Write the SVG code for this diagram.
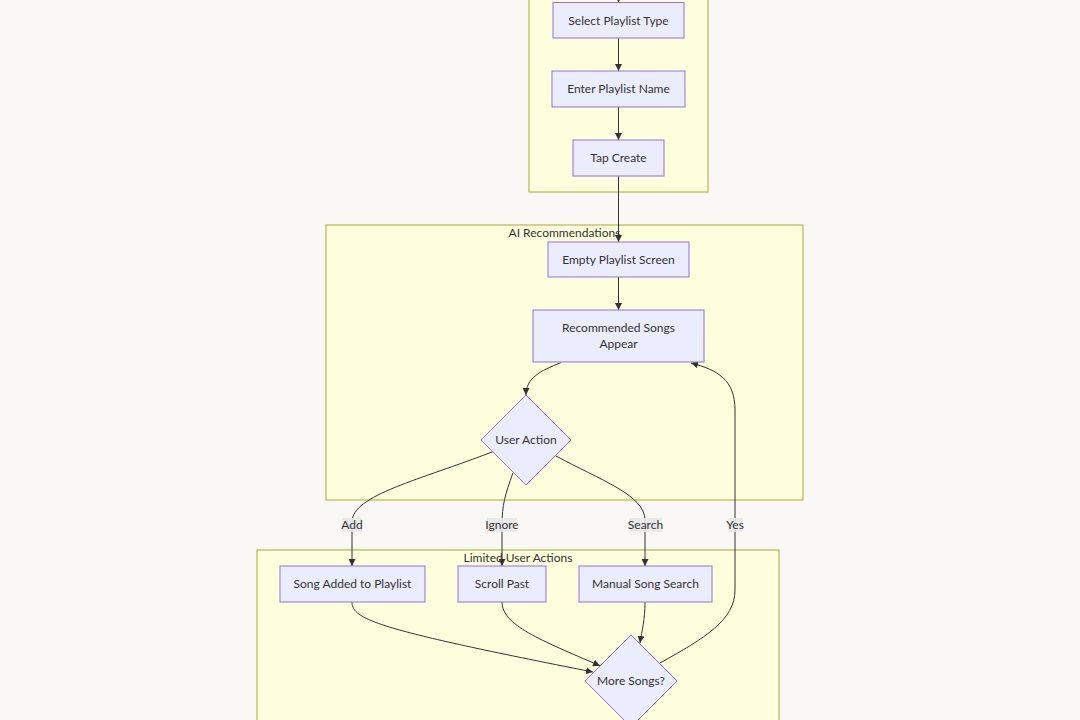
<svg xmlns="http://www.w3.org/2000/svg" width="1080" height="720" viewBox="0 0 1080 720">
<defs>
<style>
.bg{fill:#f9f8f7}
.cluster rect{fill:#ffffde;stroke:#aaaa33;stroke-width:1}
.node rect,.node polygon{fill:#ececff;stroke:#9370db;stroke-width:1}
text{font-family:Lato,"Liberation Sans",sans-serif;font-size:12px;fill:#333333}
.c{text-anchor:middle;dominant-baseline:central}
.edge{fill:none;stroke:#333333;stroke-width:1}
.lbl rect{fill:#e8e8e8;opacity:0.9}
</style>
<marker id="arr" viewBox="0 0 10 10" refX="10" refY="5" markerWidth="7" markerHeight="7" markerUnits="userSpaceOnUse" orient="auto">
<path d="M0,0 L10,5 L0,10 z" fill="#333333"/>
</marker>
</defs>
<rect class="bg" x="0" y="0" width="1080" height="720"/>

<g id="clusters">
<g class="cluster" id="cluster-create"><rect x="529" y="-20" width="179" height="212"/></g>
<g class="cluster" id="cluster-ai"><rect x="326" y="225" width="477" height="275"/><text class="c" x="564.5" y="232.5">AI Recommendations</text></g>
<g class="cluster" id="cluster-limited"><rect x="257" y="550" width="522" height="200"/><text class="c" x="518" y="557.5">Limited User Actions</text></g>
</g>

<g id="connectors">
<path class="edge" d="M618.5,-10 L618.5,2.5" marker-end="url(#arr)"/>
<path class="edge" d="M618.5,38 L618.5,71" marker-end="url(#arr)"/>
<path class="edge" d="M618.5,107 L618.5,140" marker-end="url(#arr)"/>
<path class="edge" d="M618.5,176 L618.5,242" marker-end="url(#arr)"/>
<path class="edge" d="M618.5,277 L618.5,310" marker-end="url(#arr)"/>
<path class="edge" d="M561,362.5 C540,371 526,378 526,395" marker-end="url(#arr)"/>
<path class="edge" d="M492.7,451.7 C420,480 352,495 352,522 L352,566" marker-end="url(#arr)"/>
<path class="edge" d="M513,472.7 C505,495 502,505 502,525 L502,566" marker-end="url(#arr)"/>
<path class="edge" d="M556,456 C600,480 645,495 645,520 L645,566" marker-end="url(#arr)"/>
<path class="edge" d="M660,663 C705,638 735,620 735,590 L735,410 C735,380 718,370 691,363" marker-end="url(#arr)"/>
<path class="edge" d="M352,602 C352,620 380,630 593,672" marker-end="url(#arr)"/>
<path class="edge" d="M502,602 C502,625 540,640 600,665.7" marker-end="url(#arr)"/>
<path class="edge" d="M645,602 C645,620 642,630 640,643" marker-end="url(#arr)"/>
<g class="lbl"><rect x="342" y="518" width="20" height="14"/><text class="c" x="352" y="524.5">Add</text></g>
<g class="lbl"><rect x="487" y="518" width="30" height="14"/><text class="c" x="502" y="524.5">Ignore</text></g>
<g class="lbl"><rect x="629" y="518" width="33" height="14"/><text class="c" x="645.5" y="524.5">Search</text></g>
<g class="lbl"><rect x="728" y="518" width="15" height="14"/><text class="c" x="735" y="524.5">Yes</text></g>
</g>

<g class="node" id="select-type"><rect x="553" y="2.5" width="131" height="35.5"/><text class="c" x="618.5" y="20">Select Playlist Type</text></g>
<g class="node" id="enter-name"><rect x="552" y="71" width="133" height="36"/><text class="c" x="618.5" y="88.5">Enter Playlist Name</text></g>
<g class="node" id="tap-create"><rect x="573" y="140" width="91" height="36"/><text class="c" x="618.5" y="157.5">Tap Create</text></g>
<g class="node" id="empty-screen"><rect x="548" y="242" width="141" height="35"/><text class="c" x="618.5" y="259">Empty Playlist Screen</text></g>
<g class="node" id="recommended"><rect x="533" y="310" width="171" height="52"/><text class="c" x="618.5" y="327.5">Recommended Songs</text><text class="c" x="618.5" y="343.5">Appear</text></g>
<g class="node" id="user-action"><polygon points="526,395 571,440 526,485 481,440"/><text class="c" x="526" y="439.5">User Action</text></g>
<g class="node" id="song-added"><rect x="280" y="566" width="145" height="36"/><text class="c" x="352.5" y="583.5">Song Added to Playlist</text></g>
<g class="node" id="scroll-past"><rect x="458" y="566" width="88" height="36"/><text class="c" x="502" y="583.5">Scroll Past</text></g>
<g class="node" id="manual-search"><rect x="579" y="566" width="133" height="36"/><text class="c" x="645.5" y="583.5">Manual Song Search</text></g>
<g class="node" id="more-songs"><polygon points="631,635 677,681 631,727 585,681"/><text class="c" x="631" y="680.5">More Songs?</text></g>
</svg>
